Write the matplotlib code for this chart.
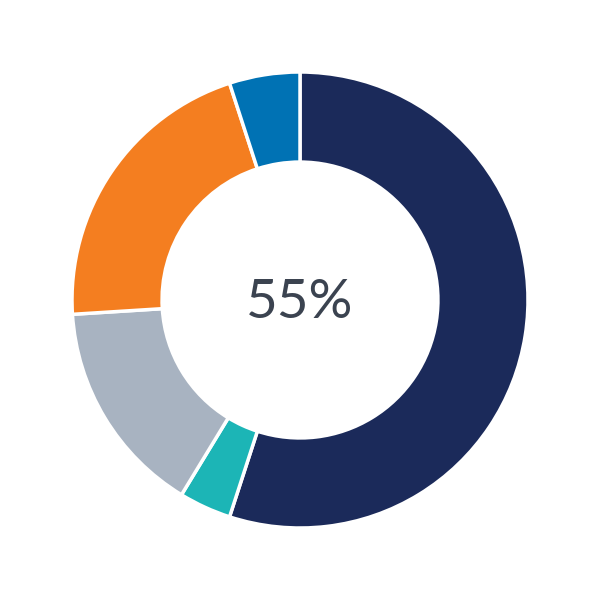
import matplotlib
matplotlib.use('Agg')
import matplotlib.pyplot as plt

labels = ['Navy', 'Teal', 'Gray', 'Orange', 'Blue']
values = [55, 3.7, 15.3, 21, 5]
colors = ['#1b2a5a', '#1cb5b6', '#a8b3c1', '#f47e20', '#0072b4']
center_text = '55%'

fig = plt.figure(figsize=(6, 6), dpi=100)
ax = fig.add_axes([0, 0, 1, 1])
ax.pie(values, colors=colors, startangle=90, counterclock=False, radius=1,
       wedgeprops=dict(width=0.395, edgecolor='white', linewidth=2.5))
ax.text(0, -0.01, center_text, ha='center', va='center', fontsize=39.5,
        family=['Lato', 'DejaVu Sans'], color='#3b4350')
lim = 300 / 228
ax.set_xlim(-lim, lim)
ax.set_ylim(-lim, lim)
ax.set_aspect('equal')
ax.axis('off')
fig.savefig('out.png', dpi=100, facecolor='white')
